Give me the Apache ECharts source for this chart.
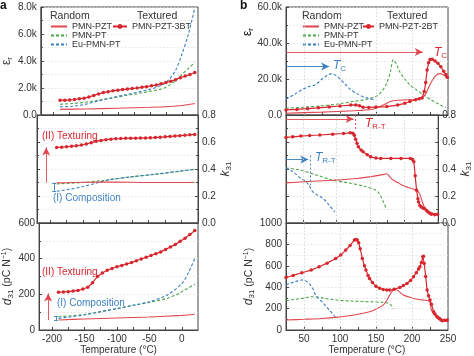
<!DOCTYPE html>
<html><head><meta charset="utf-8">
<script src="https://cdn.jsdelivr.net/npm/echarts@6/dist/echarts.min.js"></script>
<style>html,body{margin:0;padding:0;background:#fff}#c{width:474px;height:356px}</style>
</head><body><div id="c"></div>
<script>
// ---------- Panel a (x: temperature, -190..20 °C) ----------
const aTexT = [-190,-182.5,-175,-167.5,-160,-152.5,-145,-137.5,-130,-122.5,-115,-107.5,-100,-92.5,-85,-77.5,-70,-62.5,-55,-47.5,-40,-32.5,-25,-17.5,-10,-2.5,5,12.5,20];
const aEpsTex = [1100,1100,1120,1150,1200,1250,1330,1450,1560,1660,1730,1790,1840,1880,1920,1960,2000,2050,2100,2160,2230,2310,2400,2500,2620,2760,2880,3000,3150];
const aKTex = [0.56,0.562,0.565,0.568,0.572,0.578,0.585,0.595,0.605,0.612,0.617,0.621,0.624,0.626,0.627,0.628,0.628,0.629,0.63,0.631,0.633,0.636,0.638,0.641,0.644,0.647,0.65,0.653,0.656];
const aDTex = [212,213,215,218,222,230,240,265,300,320,335,345,355,362,370,378,388,398,408,418,428,438,452,465,480,497,515,535,558];

const aEpsPZT = [[-190,420],[-150,450],[-100,500],[-50,570],[-20,630],[0,700],[20,850]];
const aEpsPT = [[-190,800],[-170,850],[-150,950],[-130,1100],[-110,1250],[-90,1420],[-70,1580],[-50,1750],[-30,1950],[-20,2200],[-10,2550],[0,3000],[10,3450],[20,3900]];
const aEpsEu = [[-190,600],[-170,650],[-150,800],[-130,1050],[-110,1280],[-90,1480],[-70,1680],[-50,1900],[-30,2250],[-20,2650],[-10,3300],[0,4500],[10,6000],[20,7900]];

const aKPZT = [[-190,0.297],[-150,0.302],[-100,0.303],[-50,0.3],[0,0.3],[20,0.302]];
const aKPT = [[-190,0.29],[-150,0.3],[-120,0.315],[-80,0.34],[-40,0.36],[0,0.385],[20,0.398]];
const aKEu = [[-190,0.235],[-170,0.25],[-150,0.27],[-130,0.295],[-110,0.32],[-80,0.34],[-40,0.362],[0,0.386],[20,0.398]];

const aDPZT = [[-190,56],[-150,62],[-100,67],[-50,73],[0,82],[20,88]];
const aDPT = [[-190,74],[-150,88],[-100,120],[-73,140],[-50,155],[-23,177],[-10,195],[0,214],[20,257]];
const aDEu = [[-190,65],[-150,85],[-100,120],[-73,140],[-50,158],[-23,195],[0,260],[10,320],[20,400]];

// ---------- Panel b (x: temperature, 25..250 °C) ----------
const bEpsTex = [[25,2800],[40,3100],[55,3500],[70,4000],[85,4500],[100,5000],[115,5500],[122,5600],[127,5200],[132,4300],[140,4200],[150,4400],[165,4700],[180,5500],[190,6500],[197,7500],[205,8500],[210,9000],[214,9500],[217,13000],[219,18000],[221,25000],[223,29000],[225,30800],[228,31000],[232,30000],[236,28800],[240,26800],[244,24300],[247,22500],[249,21000]];
const bEpsPZT = [[25,1000],[50,1300],[75,1600],[100,2000],[125,2500],[141,2900],[150,3800],[160,5500],[170,7500],[180,8200],[190,8400],[200,8600],[210,9000],[218,11000],[225,17000],[232,21500],[238,23000],[243,22500],[250,20000]];
const bEpsPT = [[25,3700],[50,4300],[71,5000],[95,6000],[118,7500],[135,8600],[150,10300],[158,13000],[165,17800],[170,24000],[174,30800],[178,28500],[183,24000],[190,20000],[197,16800],[206,14000],[216,11200],[225,8800],[235,6500],[242,5000],[247,4300]];
const bEpsEu = [[25,8800],[35,11000],[47,14000],[57,15800],[66,16800],[75,20000],[82,22000],[88,23000],[95,21800],[101,19600],[108,16800],[115,14000],[123,12000],[131,10300],[140,9200],[148,8400]];

const bKTex = [[25,0.634],[35,0.638],[47,0.644],[60,0.648],[75,0.652],[94,0.658],[110,0.663],[120,0.668],[124,0.665],[126,0.65],[128,0.62],[130,0.59],[132,0.564],[136,0.54],[139,0.527],[145,0.505],[150,0.49],[158,0.481],[165,0.478],[180,0.478],[195,0.478],[209,0.478],[212,0.47],[214,0.453],[216,0.35],[218,0.243],[220,0.18],[221,0.156],[223,0.13],[225,0.119],[228,0.11],[230,0.106],[233,0.09],[235,0.082],[238,0.07],[240,0.064],[245,0.062],[249,0.064]];
const bKPZT = [[25,0.297],[50,0.305],[94,0.317],[130,0.33],[155,0.347],[170,0.36],[174,0.365],[178,0.345],[183,0.32],[190,0.3],[197,0.28],[205,0.265],[214,0.25],[219,0.24],[223,0.21],[227,0.15],[230,0.115],[235,0.09],[240,0.075],[245,0.068],[250,0.065]];
const bKPT = [[25,0.408],[47,0.391],[71,0.354],[94,0.317],[118,0.297],[141,0.272],[155,0.25],[160,0.235],[165,0.2],[169,0.156],[174,0.099]];
const bKEu = [[25,0.408],[32,0.39],[40,0.36],[47,0.33],[55,0.305],[60,0.27],[64,0.235],[70,0.21],[75,0.198],[80,0.18],[85,0.156],[90,0.125],[97,0.082]];

const bDTex = [[25,491],[35,510],[47,535],[60,560],[71,591],[82,625],[94,669],[101,700],[108,747],[114,790],[120,840],[122,846],[124,840],[126,815],[128,760],[131,669],[134,600],[136,560],[139,510],[141,482],[145,445],[150,410],[155,390],[160,379],[165,375],[169,373],[175,380],[183,398],[188,415],[193,435],[198,462],[202,498],[206,535],[209,570],[211,591],[213,630],[215,684],[216,690],[217,622],[219,500],[221,373],[223,320],[225,280],[227,240],[230,171],[232,150],[235,124],[238,110],[240,95],[242,87],[245,90],[249,93]];
const bDPZT = [[25,93],[50,100],[75,108],[94,118],[120,140],[141,171],[150,195],[160,233],[165,275],[169,327],[173,365],[176,379],[180,370],[188,327],[195,310],[202,295],[210,285],[216,280],[223,274],[225,260],[227,187],[231,140],[235,109],[240,90],[245,82],[250,78]];
const bDPT = [[25,274],[35,285],[47,295],[61,311],[75,300],[94,280],[118,270],[141,264],[160,258],[165,255],[169,243],[172,225],[174,196]];
const bDEu = [[25,420],[32,440],[40,457],[47,467],[52,460],[57,435],[62,390],[66,327],[70,295],[75,264],[80,225],[85,187],[90,150],[94,118],[97,110]];

// tick labels / tick positions
const aXLabels = [-200,-150,-100,-50,0];
const aXTicks = [-200,-175,-150,-125,-100,-75,-50,-25,0];
const bXLabels = [50,100,150,200,250];
const bXTicks = [50,75,100,125,150,175,200,225];
const bXGrid = [50,100,150,200];

const RED = '#d7262e', RED2 = '#e0474f', GREEN = '#4ea64a', BLUE = '#3a7fc2', TXT = '#333';
const FONT = '"Liberation Sans Narrow", "Arial Narrow", "Liberation Sans"';
const FS = 10;

const zip = (xs, ys) => xs.map((x, i) => [x, ys[i]]);

const chart = echarts.init(document.getElementById('c'), null, {renderer: 'canvas'});

const GA = {left: 37, width: 161};
const GB = {left: 286, width: 162};
const rows = [{top: 7, height: 108}, {top: 115, height: 108}, {top: 223, height: 107}];

const grids = [];
[GA, GB].forEach(g => rows.forEach(r => grids.push({left: g.left, width: g.width, top: r.top, height: r.height, show: true, borderColor: '#444', borderWidth: 1, backgroundColor: 'transparent'})));

function xAx(gi, isA, bottom) {
  return {
    type: 'value', gridIndex: gi,
    min: isA ? -220 : 25, max: isA ? 25 : 250,
    axisLine: {show: true, onZero: false, lineStyle: {color: '#444'}},
    axisTick: {show: true, inside: true, length: 3, lineStyle: {color: '#444'}, customValues: isA ? aXTicks : bXTicks},
    axisLabel: {show: bottom, color: TXT, fontSize: FS, fontFamily: FONT, margin: 4,
      customValues: isA ? aXLabels : bXLabels},
    splitLine: {show: false},
    name: bottom ? 'Temperature (°C)' : '', nameLocation: 'middle', nameGap: 15,
    nameTextStyle: {color: TXT, fontSize: FS, fontFamily: FONT}
  };
}
const xAxes = [];
[true, false].forEach(isA => [0,1,2].forEach(r => xAxes.push(xAx(xAxes.length, isA, r === 2))));

const epsRich = {e: {fontSize: 12, fontFamily: FONT, color: TXT}, s: {fontSize: 8, fontFamily: FONT, color: TXT, padding: [6,0,0,0]}};
const kRich = {e: {fontSize: 12, fontStyle: 'italic', fontFamily: FONT, color: TXT}, s: {fontSize: 8, fontFamily: FONT, color: TXT, padding: [6,0,0,0]}};
const dRich = {e: {fontSize: 12, fontStyle: 'italic', fontFamily: FONT, color: TXT}, s: {fontSize: 8, fontFamily: FONT, color: TXT, padding: [6,0,0,0]}, t: {fontSize: 10.5, fontFamily: FONT, color: TXT}, u: {fontSize: 7, fontFamily: FONT, color: TXT, padding: [0,0,6,0]}};

const gridLine = {show: true, lineStyle: {color: '#dedede', type: [1.5, 2], width: 0.8}};
function yAx(gi, o) {
  return Object.assign({
    type: 'value', gridIndex: gi,
    axisLine: {show: true, onZero: false, lineStyle: {color: '#444'}},
    axisTick: {show: true, inside: true, length: 3, lineStyle: {color: '#444'}},
    minorTick: {show: true, splitNumber: 2, length: 2, lineStyle: {color: '#444'}},
    axisLabel: {show: true, color: TXT, fontSize: FS, fontFamily: FONT, margin: 4, formatter: v => String(v)},
    splitLine: gridLine,
    minorSplitLine: gridLine,
    nameLocation: 'middle', nameRotate: 90
  }, o);
}
const kLab = v => v.toFixed(1);
const kFmt = v => (v === 0 ? '0.0' : (v / 1000).toFixed(1) + 'k');
const lab = f => ({color: TXT, fontSize: FS, fontFamily: FONT, margin: 4, formatter: f});
const yAxes = [
  yAx(0, {min: 0, max: 8000, interval: 2000, axisLabel: lab(kFmt), name: '{e|ε}{s|r}', nameGap: 25, nameTextStyle: {rich: epsRich}}),
  yAx(1, {min: 0, max: 0.8, interval: 0.2, position: 'right', axisLabel: lab(kLab), name: '{e|k}{s|31}', nameGap: 17, nameTextStyle: {rich: kRich}}),
  yAx(1, {min: 0, max: 0.8, interval: 0.2, position: 'left', axisLabel: {show: false}, splitLine: {show: false}, minorSplitLine: {show: false}}),
  yAx(2, {min: 0, max: 600, interval: 200, name: '{e|d}{s|31}{t| (pC N}{u|−1}{t|)}', nameGap: 22, nameTextStyle: {rich: dRich}}),
  yAx(3, {min: 0, max: 60000, interval: 20000, axisLabel: lab(kFmt)}),
  yAx(4, {min: 0, max: 0.8, interval: 0.2, position: 'right', axisLabel: lab(kLab), name: '{e|k}{s|31}', nameGap: 15, nameTextStyle: {rich: kRich}}),
  yAx(4, {min: 0, max: 0.8, interval: 0.2, position: 'left', axisLabel: {show: false}, splitLine: {show: false}, minorSplitLine: {show: false}}),
  yAx(5, {min: 0, max: 1000, interval: 200, name: '{e|d}{s|31}{t| (pC N}{u|−1}{t|)}', nameGap: 24, nameTextStyle: {rich: dRich}})
];

function line(name, data, xi, yi, color, dashed, extra) {
  return Object.assign({
    type: 'line', name, data, xAxisIndex: xi, yAxisIndex: yi,
    showSymbol: false, symbol: 'none', smooth: 0.3,
    lineStyle: {color, width: 1.1, type: dashed ? [3, 2] : 'solid'},
    itemStyle: {color}, z: dashed ? 3 : 4, silent: true, animation: false
  }, extra || {});
}
function tex(name, data, xi, yi) {
  return line(name, data, xi, yi, RED, false, {symbol: 'circle', showSymbol: true, symbolSize: 3.5, smooth: false, lineStyle: {color: RED, width: 1.2}, z: 5});
}
function multiMark(list) {
  return {silent: true, animation: false, label: {show: false},
    data: list.map(m => [{coord: m.a, symbol: m.s ? m.s[0] : 'none', symbolSize: [6, 8], lineStyle: {color: m.c, width: 0.9, type: m.t || 'solid'}}, {coord: m.b, symbol: m.s ? m.s[1] : 'none', symbolSize: [6, 8]}])};
}
const vGrid = {silent: true, animation: false, symbol: 'none', label: {show: false},
  lineStyle: {color: '#cfcfcf', type: [1.5, 2], width: 0.8}, data: bXGrid.map(v => ({xAxis: v}))};

const series = [
  // a top
  line('PMN-PZT', aEpsPZT, 0, 0, RED2, false),
  line('PMN-PT', aEpsPT, 0, 0, GREEN, true),
  line('Eu-PMN-PT', aEpsEu, 0, 0, BLUE, true),
  tex('PMN-PZT-3BT', zip(aTexT, aEpsTex), 0, 0),
  // a mid
  line('PMN-PZT', aKPZT, 1, 1, RED2, false, {markLine: multiMark([
    {a: [-206, 0.3], b: [-206, 0.56], c: RED2, s: ['none', 'arrow']},
    {a: [-194, 0.238], b: [-194, 0.297], c: BLUE},
    {a: [-197, 0.238], b: [-191, 0.238], c: BLUE},
    {a: [-197, 0.297], b: [-191, 0.297], c: BLUE}
  ])}),
  line('PMN-PT', aKPT, 1, 1, GREEN, true),
  line('Eu-PMN-PT', aKEu, 1, 1, BLUE, true),
  tex('PMN-PZT-3BT', zip(aTexT, aKTex), 1, 1),
  // a bottom
  line('PMN-PZT', aDPZT, 2, 3, RED2, false, {markLine: multiMark([
    {a: [-206, 56], b: [-206, 205], c: RED2, s: ['none', 'arrow']},
    {a: [-194, 52], b: [-194, 76], c: BLUE},
    {a: [-197, 52], b: [-191, 52], c: BLUE},
    {a: [-197, 76], b: [-191, 76], c: BLUE}
  ])}),
  line('PMN-PT', aDPT, 2, 3, GREEN, true),
  line('Eu-PMN-PT', aDEu, 2, 3, BLUE, true),
  tex('PMN-PZT-3BT', zip(aTexT, aDTex), 2, 3),
  // b top
  line('PMN-PZT', bEpsPZT, 3, 4, RED2, false, {markLine: multiMark([
    {a: [25, 35000], b: [215, 35000], c: RED2, s: ['none', 'arrow']},
    {a: [25, 27000], b: [85, 27000], c: BLUE, s: ['none', 'arrow']}
  ])}),
  line('PMN-PT', bEpsPT, 3, 4, GREEN, true, {markLine: vGrid}),
  line('Eu-PMN-PT', bEpsEu, 3, 4, BLUE, true),
  tex('PMN-PZT-2BT', bEpsTex, 3, 4),
  // b mid
  line('PMN-PZT', bKPZT, 4, 5, RED2, false, {markLine: multiMark([
    {a: [25, 0.77], b: [125, 0.77], c: RED2, s: ['none', 'arrow']},
    {a: [128, 0.8], b: [128, 0.69], c: RED2, t: [2, 2]},
    {a: [25, 0.47], b: [58, 0.47], c: BLUE, s: ['none', 'arrow']},
    {a: [61, 0.5], b: [61, 0.26], c: BLUE, t: [2, 2]}
  ])}),
  line('PMN-PT', bKPT, 4, 5, GREEN, true, {markLine: vGrid}),
  line('Eu-PMN-PT', bKEu, 4, 5, BLUE, true),
  tex('PMN-PZT-2BT', bKTex, 4, 5),
  // b bottom
  line('PMN-PZT', bDPZT, 5, 7, RED2, false),
  line('PMN-PT', bDPT, 5, 7, GREEN, true, {markLine: vGrid}),
  line('Eu-PMN-PT', bDEu, 5, 7, BLUE, true),
  tex('PMN-PZT-2BT', bDTex, 5, 7)
];

const legTxt = {color: TXT, fontSize: 9, fontFamily: FONT, lineHeight: 8.5};
const legBase = {orient: 'vertical', itemWidth: 16, itemHeight: 6, itemGap: 0, textStyle: legTxt, selectedMode: false, padding: 0};
const noSym = n => ({name: n, itemStyle: {opacity: 0}});
const legends = [
  Object.assign({}, legBase, {left: 50, top: 22, data: ['PMN-PZT', 'PMN-PT', 'Eu-PMN-PT'].map(noSym)}),
  Object.assign({}, legBase, {left: 112, top: 22, data: ['PMN-PZT-3BT'], itemWidth: 14}),
  Object.assign({}, legBase, {left: 302, top: 22, data: ['PMN-PZT', 'PMN-PT', 'Eu-PMN-PT'].map(noSym)}),
  Object.assign({}, legBase, {left: 362, top: 22, data: ['PMN-PZT-2BT'], itemWidth: 11})
];

const cssFont = (size, w) => (w ? w + ' ' : '') + size + 'px ' + FONT;
const gText = (x, y, text, color, size, extra) => ({type: 'text', left: x, top: y, silent: true,
  style: Object.assign({text, fill: color, font: cssFont(size || FS)}, extra || {})});
const sub = (x, y, main, s, color) => ({type: 'text', left: x, top: y, silent: true,
  style: {text: '{i|' + main + '}{s|' + s + '}', rich: {i: {fill: color, fontSize: 12, fontStyle: 'italic', fontFamily: FONT}, s: {fill: color, fontSize: 8, fontFamily: FONT, padding: [6, 0, 0, 0]}}}});

const graphics = [
  {type: 'text', left: 0, top: 0, style: {text: 'a', font: cssFont(12, 'bold'), fill: '#111'}},
  {type: 'text', left: 240, top: 0, style: {text: 'b', font: cssFont(12, 'bold'), fill: '#111'}},
  gText(50, 11, 'Random', TXT, 10.5),
  gText(137, 11, 'Textured', TXT, 10.5),
  gText(302, 11, 'Random', TXT, 10.5),
  gText(387, 11, 'Textured', TXT, 10.5),
  gText(42, 131, '(II) Texturing', RED, 10),
  gText(53, 193, '(I) Composition', BLUE, 10),
  gText(42, 267, '(II) Texturing', RED, 10),
  gText(57, 298, '(I) Composition', BLUE, 10),
  sub(434, 47, 'T', 'C', RED),
  sub(333, 60, 'T', 'C', BLUE),
  sub(365, 118, 'T', 'R-T', RED),
  sub(315, 152, 'T', 'R-T', BLUE),
  {type: 'text', x: 248, y: 32, rotation: Math.PI / 2, silent: true,
    style: {text: '{e|ε}{s|r}', rich: epsRich, align: 'center', verticalAlign: 'middle'}}
];

chart.setOption({
  animation: false,
  grid: grids, xAxis: xAxes, yAxis: yAxes, series, legend: legends, graphic: graphics
});
</script></body></html>
